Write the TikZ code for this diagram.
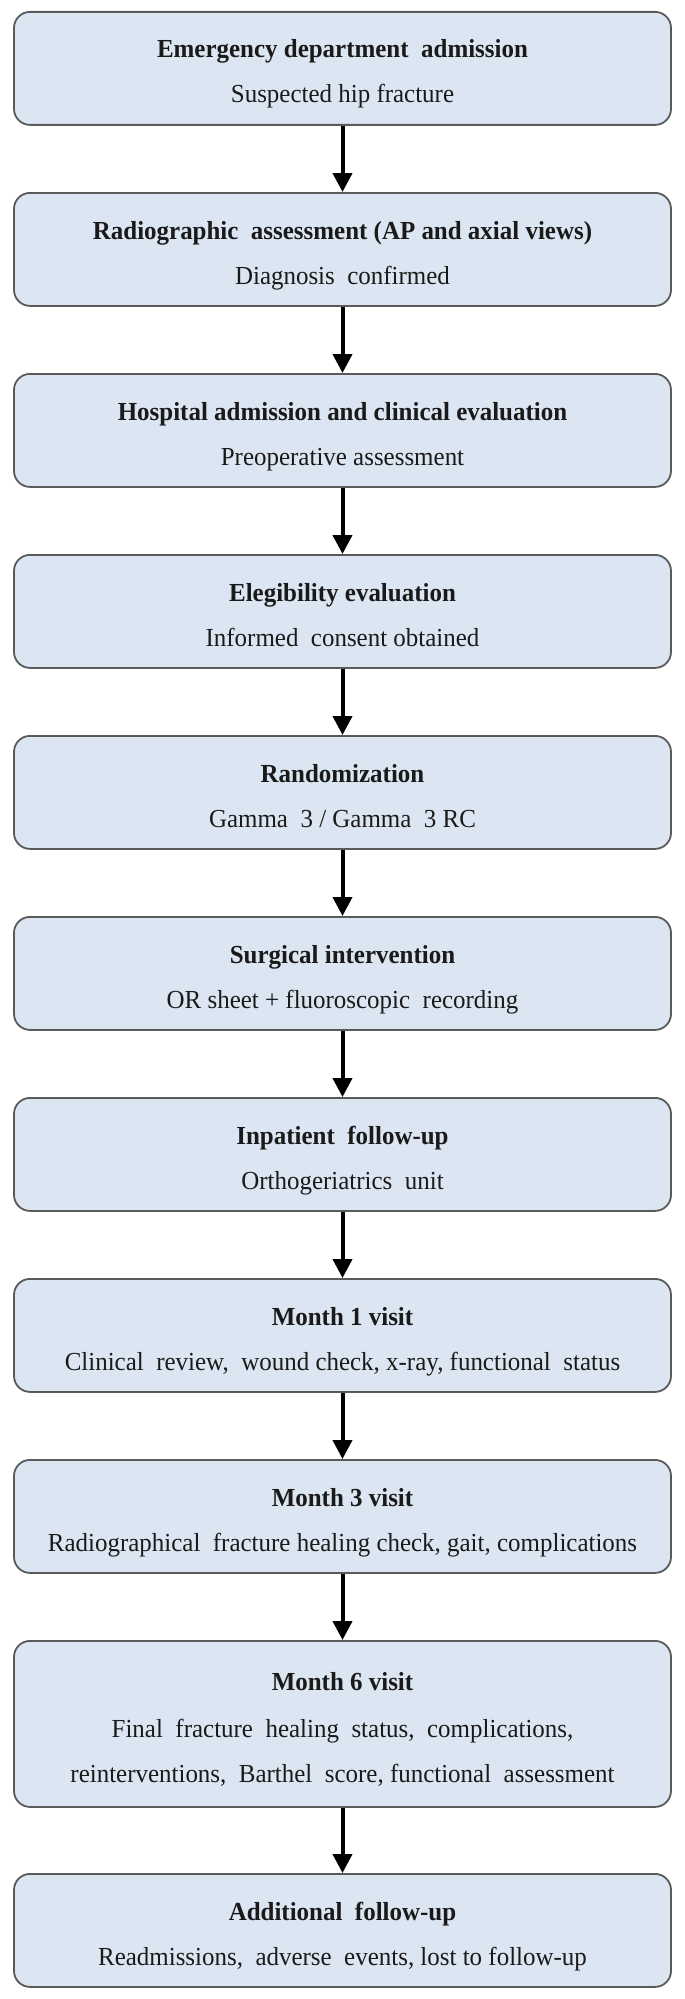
\documentclass[tikz,border=0pt]{standalone}
\usepackage{fontspec}
\usepackage{graphicx}
\setmainfont{Liberation Serif}
\usetikzlibrary{arrows.meta}
\definecolor{boxfill}{HTML}{DCE6F2}
\definecolor{boxdraw}{HTML}{5A5A5A}
\definecolor{txt}{HTML}{1A1A1A}
\newcommand{\sqz}[1]{\scalebox{0.96}[1]{#1}}
\begin{document}
\begin{tikzpicture}[x=1pt,y=-1pt,
  stepbox/.style={draw=boxdraw, line width=1.8pt, fill=boxfill, rounded corners=16pt,
    minimum width=657pt, inner sep=0pt, anchor=north},
  ttl/.style={font=\fontsize{26}{30}\selectfont\bfseries, text=txt, anchor=base, inner sep=0pt},
  sub/.style={font=\fontsize{26}{30}\selectfont, text=txt, anchor=base, inner sep=0pt},
  flow/.style={-{Triangle[width=19pt,length=19pt]}, line width=4pt, black}
]
\useasboundingbox (0,0) rectangle (685,1999);
% boxes
\node[stepbox, minimum height=113pt] (b1) at (342.5,11) {};
\node[stepbox, minimum height=113pt] (b2) at (342.5,192) {};
\node[stepbox, minimum height=113pt] (b3) at (342.5,373) {};
\node[stepbox, minimum height=113pt] (b4) at (342.5,554) {};
\node[stepbox, minimum height=113pt] (b5) at (342.5,735) {};
\node[stepbox, minimum height=113pt] (b6) at (342.5,916) {};
\node[stepbox, minimum height=113pt] (b7) at (342.5,1097) {};
\node[stepbox, minimum height=113pt] (b8) at (342.5,1278) {};
\node[stepbox, minimum height=113pt] (b9) at (342.5,1459) {};
\node[stepbox, minimum height=166pt] (b10) at (342.5,1640) {};
\node[stepbox, minimum height=113pt] (b11) at (342.5,1873) {};
% texts
\node[ttl] (t1) at (342.5,58) {\sqz{Emergency department\ \ admission}};
\node[sub] (s1) at (342.5,103) {\sqz{Suspected hip fracture}};
\node[ttl] (t2) at (342.5,239) {\sqz{Radiographic\ \ assessment (AP and axial views)}};
\node[sub] (s2) at (342.5,284) {\sqz{Diagnosis\ \ confirmed}};
\node[ttl] (t3) at (342.5,420) {\sqz{Hospital admission and clinical evaluation}};
\node[sub] (s3) at (342.5,465) {\sqz{Preoperative assessment}};
\node[ttl] (t4) at (342.5,601) {\sqz{Elegibility evaluation}};
\node[sub] (s4) at (342.5,646) {\sqz{Informed\ \ consent obtained}};
\node[ttl] (t5) at (342.5,782) {\sqz{Randomization}};
\node[sub] (s5) at (342.5,827) {\sqz{Gamma\ \ 3 / Gamma\ \ 3 RC}};
\node[ttl] (t6) at (342.5,963) {\sqz{Surgical intervention}};
\node[sub] (s6) at (342.5,1008) {\sqz{OR sheet + fluoroscopic\ \ recording}};
\node[ttl] (t7) at (342.5,1144) {\sqz{Inpatient\ \ follow-up}};
\node[sub] (s7) at (342.5,1189) {\sqz{Orthogeriatrics\ \ unit}};
\node[ttl] (t8) at (342.5,1325) {\sqz{Month 1 visit}};
\node[sub] (s8) at (342.5,1370) {\sqz{Clinical\ \ review,\ \ wound check, x-ray, functional\ \ status}};
\node[ttl] (t9) at (342.5,1506) {\sqz{Month 3 visit}};
\node[sub] (s9) at (342.5,1551) {\sqz{Radiographical\ \ fracture healing check, gait, complications}};
\node[ttl] (t10) at (342.5,1690) {\sqz{Month 6 visit}};
\node[sub] (s10) at (342.5,1737) {\sqz{Final\ \ fracture\ \ healing\ \ status,\ \ complications,}};
\node[sub] (u10) at (342.5,1782) {\sqz{reinterventions,\ \ Barthel\ \ score, functional\ \ assessment}};
\node[ttl] (t11) at (342.5,1920) {\sqz{Additional\ \ follow-up}};
\node[sub] (s11) at (342.5,1965) {\sqz{Readmissions,\ \ adverse\ \ events, lost to follow-up}};
% arrows
\draw[flow] (b1.south) -- (b2.north);
\draw[flow] (b2.south) -- (b3.north);
\draw[flow] (b3.south) -- (b4.north);
\draw[flow] (b4.south) -- (b5.north);
\draw[flow] (b5.south) -- (b6.north);
\draw[flow] (b6.south) -- (b7.north);
\draw[flow] (b7.south) -- (b8.north);
\draw[flow] (b8.south) -- (b9.north);
\draw[flow] (b9.south) -- (b10.north);
\draw[flow] (b10.south) -- (b11.north);
\end{tikzpicture}
\end{document}
